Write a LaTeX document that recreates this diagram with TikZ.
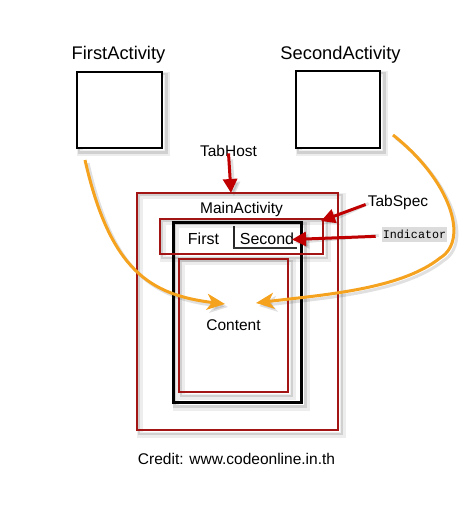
\documentclass[tikz,border=0pt]{standalone}
\usepackage{fontspec}
\setmainfont{Liberation Sans}
\setmonofont{Liberation Mono}
\usetikzlibrary{arrows.meta}
\pgfdeclarelayer{background}
\pgfsetlayers{background,main}
\definecolor{boxred}{HTML}{A31515}
\definecolor{arrred}{HTML}{C00000}
\definecolor{orng}{HTML}{F5A21E}
\definecolor{indbg}{HTML}{DCDCDC}
\begin{document}
\begin{tikzpicture}[x=1pt,y=-1pt,
  actbox/.style={draw=black,line width=2.5pt,fill=white,inner sep=0pt},
  redbox/.style={draw=boxred,line width=2pt,inner sep=0pt},
  phonebox/.style={draw=black,line width=3pt,inner sep=0pt},
  lbl/.style={inner sep=0pt,anchor=base,font=\fontsize{15.5}{18}\selectfont},
  biglbl/.style={inner sep=0pt,anchor=base,font=\fontsize{18.3}{21}\selectfont},
  redarr/.style={draw=arrred,line width=3pt,-{Triangle[length=14pt,width=14pt]}},
  arrshadow/.style={draw=black,opacity=0.12,line width=3pt,-{Triangle[length=14pt,width=14pt]}},
  orarr/.style={draw=orng,line width=3pt,-{Stealth[length=18pt,width=16pt,inset=5pt]}},
  orshadow/.style={draw=black,opacity=0.12,line width=3pt,-{Stealth[length=18pt,width=16pt,inset=5pt]}},
  shadowA/.style={draw=black,opacity=0.07,line width=6pt},
  shadowB/.style={draw=black,opacity=0.12,line width=2.5pt},
]
\useasboundingbox (0,0) rectangle (461,506);

% boxes
\node[actbox,minimum width=85pt,minimum height=76pt] (fa) at (119.5,110) {};
\node[actbox,minimum width=84pt,minimum height=77pt] (sa) at (338,109.5) {};
\node[redbox,minimum width=201pt,minimum height=237pt] (main) at (237.5,311.5) {};
\node[phonebox,minimum width=128pt,minimum height=180pt] (phone) at (237,312) {};
\node[redbox,minimum width=163pt,minimum height=35pt] (spec) at (241.5,236.5) {};
\node[redbox,minimum width=109pt,minimum height=133pt] (content) at (233.5,325.5) {};

% labels
\node[biglbl] (falbl) at (118.5,59.5) {FirstActivity};
\node[biglbl] (salbl) at (340.5,59.5) {SecondActivity};
\node[lbl] (hostlbl) at (228.5,156) {TabHost};
\node[lbl] (mainlbl) at (241.5,213) {MainActivity};
\node[lbl] (speclbl) at (398,206.5) {TabSpec};
\node[lbl,font=\fontsize{16}{18}\selectfont] (first) at (203.5,244) {First};
\node[lbl,font=\fontsize{16}{18}\selectfont] (second) at (267,244) {Second};
\node[lbl] (contlbl) at (233.5,330) {Content};
\node[lbl] (credit) at (236.5,464) {Credit: www.codeonline.in.th};
\node[anchor=base,fill=indbg,inner xsep=1pt,inner ysep=3pt,font=\ttfamily\fontsize{11.7}{14}\selectfont] (ind) at (414.5,238.5) {Indicator};

% tab indicator
\coordinate (bartop) at (234,226);
\coordinate (barbot) at (234,248);
\coordinate (barend) at (297,248);
\draw[draw=black!85,line width=2.6pt] (bartop) -- (barbot);
\draw[draw=black!80,line width=2.2pt] ([xshift=-1.3pt]barbot) -- (barend);

% connector end points
\coordinate (hostend) at (231,193);
\coordinate (specend) at (321,221);
\coordinate (indend) at (292,239.5);
\coordinate (fastart) at (85,160);
\coordinate (faend) at (225,304);
\coordinate (sastart) at (393,135);
\coordinate (sabend) at (440,258);
\coordinate (saend) at (256,303);

% shadows
\begin{pgfonlayer}{background}
\fill[white] (0,0) rectangle (461,506);
\foreach \n in {fa,sa,main,phone,spec,content}{
  \draw[shadowA] ([shift={(4,4)}]\n.north west) rectangle ([shift={(4,4)}]\n.south east);
  \draw[shadowB] ([shift={(3,3)}]\n.north west) rectangle ([shift={(3,3)}]\n.south east);
}
\draw[arrshadow] ([shift={(3,3)}]hostlbl.south) -- ([shift={(3,3)}]hostend);
\draw[arrshadow] ([shift={(1,1)}]speclbl.west) -- ([shift={(3,3)}]specend);
\draw[arrshadow] ([shift={(-3,1)}]ind.west) -- ([shift={(3,3)}]indend);
\draw[orshadow] ([shift={(3,3)}]fastart) .. controls ([shift={(3,3)}]110,270) and ([shift={(3,3)}]150,295) .. ([shift={(3,3)}]faend);
\draw[orshadow] ([shift={(3,3)}]sastart) .. controls ([shift={(3,3)}]450,180) and ([shift={(3,3)}]470,240) .. ([shift={(3,3)}]sabend) .. controls ([shift={(3,3)}]400,290) and ([shift={(3,3)}]320,295) .. ([shift={(3,3)}]saend);
\end{pgfonlayer}

% red arrows
\draw[redarr] ([yshift=3pt]hostlbl.south) -- (hostend);
\draw[redarr] ([xshift=-2pt,yshift=-2pt]speclbl.west) -- (specend);
\draw[redarr] ([xshift=-6pt,yshift=-2pt]ind.west) -- (indend);

% orange arrows
\draw[orarr] (fastart) .. controls (110,270) and (150,295) .. (faend);
\draw[orarr] (sastart) .. controls (450,180) and (470,240) .. (sabend) .. controls (400,290) and (320,295) .. (saend);
\end{tikzpicture}
\end{document}
